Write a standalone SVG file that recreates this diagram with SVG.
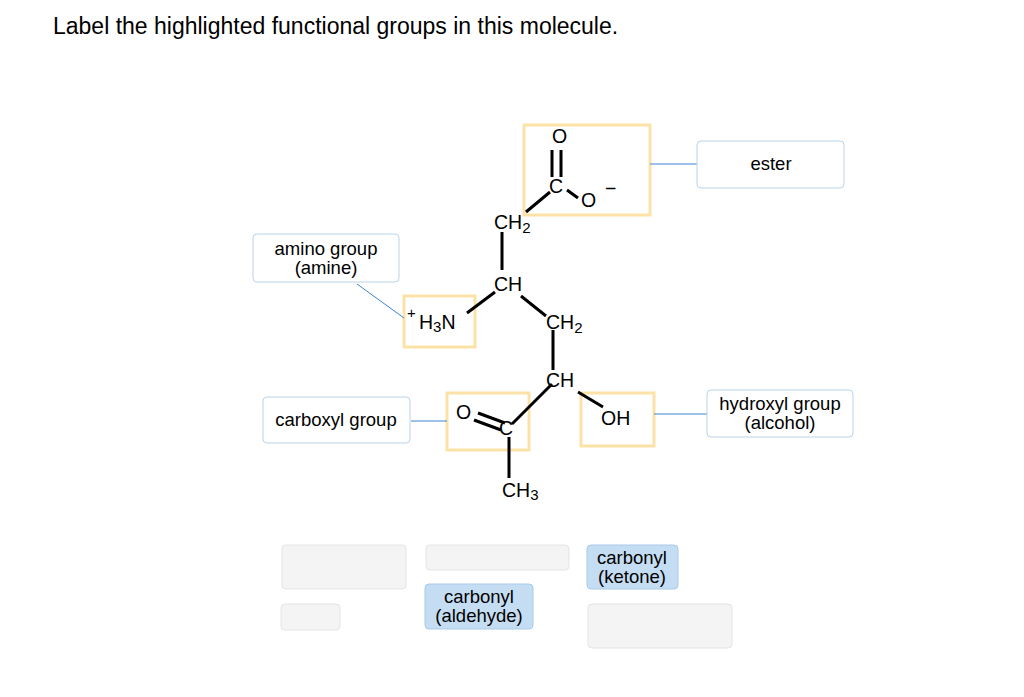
<svg xmlns="http://www.w3.org/2000/svg" width="1024" height="697" viewBox="0 0 1024 697">
<style>
text{font-family:"Liberation Sans",Arial,sans-serif;fill:#000}
.t{font-size:19.5px}
.s{font-size:15px}
.c{font-size:18.5px}
.lb{fill:#fff;stroke:#b9d4ec;stroke-width:1}
.hl{fill:none;stroke:#fde2a8;stroke-width:3}
.b{stroke:#000;stroke-width:3;fill:none}
.cn{stroke:#3d83d0;stroke-width:1;fill:none}
.g{fill:#f4f4f4;stroke:#e4e4e4}
.bl{fill:#c5ddf3;stroke:#a9c9e8}
</style>
<rect width="1024" height="697" fill="#fff"/>
<text x="53" y="34" style="font-size:23px">Label the highlighted functional groups in this molecule.</text>
<g id="molecule">
<rect class="hl" x="524" y="125" width="126" height="90"/>
<rect class="hl" x="404" y="296" width="71" height="51"/>
<rect class="hl" x="447" y="393" width="82" height="57"/>
<rect class="hl" x="581" y="393" width="73" height="53"/>
<path class="b" d="M552 150V177M561 150V177M567 190L578 198M550 192L526 212M502 232V270M495 292L467 313M521 296L546 316M553 330V370M552 384L512 424M478 413L505 423M474 420L501 430M509 437V478M578 392L603 407"/>
<text class="t" x="552" y="143">O</text>
<text class="t" x="549" y="193">C</text>
<text class="t" x="581" y="207">O</text>
<text class="t" x="605" y="195">−</text>
<text class="t" x="494" y="229">CH<tspan class="s" dy="4">2</tspan></text>
<text class="t" x="494" y="291">CH</text>
<text class="s" x="407" y="318">+</text>
<text class="t" x="419" y="329">H<tspan class="s" dy="3">3</tspan><tspan dy="-3">N</tspan></text>
<text class="t" x="546" y="329">CH<tspan class="s" dy="4">2</tspan></text>
<text class="t" x="546" y="387">CH</text>
<text class="t" x="456" y="419">O</text>
<text class="t" x="499" y="435">C</text>
<text class="t" x="502" y="497">CH<tspan class="s" dy="3">3</tspan></text>
<text class="t" x="601" y="425">OH</text>
</g>
<g id="connectors">
<path class="cn" d="M650 164H697M357 284L404 318M411 421H447M654 414H707"/>
</g>
<g id="ester"><rect class="lb" x="697" y="141" width="147" height="47" rx="4"/><text class="c" x="771" y="170" text-anchor="middle">ester</text></g>
<g id="amino"><rect class="lb" x="253" y="234" width="146" height="48" rx="4"/><text class="c" x="326" y="255" text-anchor="middle">amino group</text><text class="c" x="326" y="274" text-anchor="middle">(amine)</text></g>
<g id="carboxyl"><rect class="lb" x="263" y="397" width="147" height="46" rx="4"/><text class="c" x="336" y="426" text-anchor="middle">carboxyl group</text></g>
<g id="hydroxyl"><rect class="lb" x="707" y="390" width="146" height="47" rx="4"/><text class="c" x="780" y="410" text-anchor="middle">hydroxyl group</text><text class="c" x="780" y="429" text-anchor="middle">(alcohol)</text></g>
<g id="bank">
<rect class="g" x="282" y="545" width="124" height="44" rx="4"/>
<rect class="g" x="426" y="545" width="143" height="25" rx="4"/>
<rect class="g" x="281" y="604" width="59" height="26" rx="4"/>
<rect class="g" x="588" y="604" width="144" height="44" rx="4"/>
<g id="ketone"><rect class="bl" x="587" y="545" width="91" height="44" rx="4"/><text class="c" x="632" y="564" text-anchor="middle">carbonyl</text><text class="c" x="632" y="583" text-anchor="middle">(ketone)</text></g>
<g id="aldehyde"><rect class="bl" x="425" y="584" width="108" height="45" rx="4"/><text class="c" x="479" y="603" text-anchor="middle">carbonyl</text><text class="c" x="479" y="622" text-anchor="middle">(aldehyde)</text></g>
</g>
</svg>
